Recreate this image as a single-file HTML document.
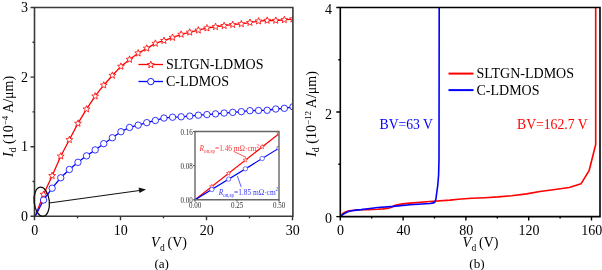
<!DOCTYPE html>
<html><head><meta charset="utf-8"><style>
html,body{margin:0;padding:0;background:#fff;width:602px;height:270px;overflow:hidden}
svg{display:block;filter:blur(0.3px)}
</style></head><body>
<svg width="602" height="270" viewBox="0 0 602 270">
<defs><clipPath id="ca"><rect x="34.5" y="7.5" width="258.0" height="208.8"/></clipPath></defs><g clip-path="url(#ca)">
<polyline points="34.95,216.75 43.55,194.48 52.15,175.69 60.75,156.20 69.35,139.77 77.95,123.42 86.55,109.15 95.15,96.20 103.75,85.21 112.35,75.46 120.95,66.41 129.55,59.45 138.15,53.19 146.75,48.32 155.35,43.45 163.95,40.66 172.55,37.53 181.15,34.40 189.75,32.31 198.35,30.22 206.95,28.13 215.55,26.74 224.15,25.70 232.75,24.65 241.35,23.96 249.95,22.57 258.55,21.17 267.15,20.48 275.75,20.48 284.35,19.78 292.95,19.09" fill="none" stroke="#f00" stroke-width="1.3"/>
<g fill="#fff" stroke="#f00" stroke-width="0.8"><polygon points="43.55,190.88 44.46,193.22 46.97,193.37 45.02,194.96 45.67,197.39 43.55,196.03 41.43,197.39 42.08,194.96 40.13,193.37 42.64,193.22"/><polygon points="52.15,172.09 53.06,174.43 55.57,174.57 53.62,176.16 54.27,178.60 52.15,177.24 50.03,178.60 50.68,176.16 48.73,174.57 51.24,174.43"/><polygon points="60.75,152.60 61.66,154.94 64.17,155.09 62.22,156.68 62.87,159.11 60.75,157.75 58.63,159.11 59.28,156.68 57.33,155.09 59.84,154.94"/><polygon points="69.35,136.17 70.26,138.52 72.77,138.66 70.82,140.25 71.47,142.68 69.35,141.32 67.23,142.68 67.88,140.25 65.93,138.66 68.44,138.52"/><polygon points="77.95,119.82 78.86,122.16 81.37,122.30 79.42,123.90 80.07,126.33 77.95,124.97 75.83,126.33 76.48,123.90 74.53,122.30 77.04,122.16"/><polygon points="86.55,105.55 87.46,107.89 89.97,108.04 88.02,109.63 88.67,112.06 86.55,110.70 84.43,112.06 85.08,109.63 83.13,108.04 85.64,107.89"/><polygon points="95.15,92.60 96.06,94.95 98.57,95.09 96.62,96.68 97.27,99.12 95.15,97.75 93.03,99.12 93.68,96.68 91.73,95.09 94.24,94.95"/><polygon points="103.75,81.61 104.66,83.95 107.17,84.09 105.22,85.68 105.87,88.12 103.75,86.76 101.63,88.12 102.28,85.68 100.33,84.09 102.84,83.95"/><polygon points="112.35,71.86 113.26,74.21 115.77,74.35 113.82,75.94 114.47,78.37 112.35,77.01 110.23,78.37 110.88,75.94 108.93,74.35 111.44,74.21"/><polygon points="120.95,62.81 121.86,65.16 124.37,65.30 122.42,66.89 123.07,69.33 120.95,67.96 118.83,69.33 119.48,66.89 117.53,65.30 120.04,65.16"/><polygon points="129.55,55.85 130.46,58.20 132.97,58.34 131.02,59.93 131.67,62.37 129.55,61.00 127.43,62.37 128.08,59.93 126.13,58.34 128.64,58.20"/><polygon points="138.15,49.59 139.06,51.94 141.57,52.08 139.62,53.67 140.27,56.10 138.15,54.74 136.03,56.10 136.68,53.67 134.73,52.08 137.24,51.94"/><polygon points="146.75,44.72 147.66,47.06 150.17,47.21 148.22,48.80 148.87,51.23 146.75,49.87 144.63,51.23 145.28,48.80 143.33,47.21 145.84,47.06"/><polygon points="155.35,39.85 156.26,42.19 158.77,42.33 156.82,43.92 157.47,46.36 155.35,45.00 153.23,46.36 153.88,43.92 151.93,42.33 154.44,42.19"/><polygon points="163.95,37.06 164.86,39.41 167.37,39.55 165.42,41.14 166.07,43.57 163.95,42.21 161.83,43.57 162.48,41.14 160.53,39.55 163.04,39.41"/><polygon points="172.55,33.93 173.46,36.28 175.97,36.42 174.02,38.01 174.67,40.44 172.55,39.08 170.43,40.44 171.08,38.01 169.13,36.42 171.64,36.28"/><polygon points="181.15,30.80 182.06,33.14 184.57,33.29 182.62,34.88 183.27,37.31 181.15,35.95 179.03,37.31 179.68,34.88 177.73,33.29 180.24,33.14"/><polygon points="189.75,28.71 190.66,31.06 193.17,31.20 191.22,32.79 191.87,35.22 189.75,33.86 187.63,35.22 188.28,32.79 186.33,31.20 188.84,31.06"/><polygon points="198.35,26.62 199.26,28.97 201.77,29.11 199.82,30.70 200.47,33.13 198.35,31.77 196.23,33.13 196.88,30.70 194.93,29.11 197.44,28.97"/><polygon points="206.95,24.53 207.86,26.88 210.37,27.02 208.42,28.61 209.07,31.05 206.95,29.68 204.83,31.05 205.48,28.61 203.53,27.02 206.04,26.88"/><polygon points="215.55,23.14 216.46,25.49 218.97,25.63 217.02,27.22 217.67,29.65 215.55,28.29 213.43,29.65 214.08,27.22 212.13,25.63 214.64,25.49"/><polygon points="224.15,22.10 225.06,24.44 227.57,24.59 225.62,26.18 226.27,28.61 224.15,27.25 222.03,28.61 222.68,26.18 220.73,24.59 223.24,24.44"/><polygon points="232.75,21.05 233.66,23.40 236.17,23.54 234.22,25.13 234.87,27.57 232.75,26.20 230.63,27.57 231.28,25.13 229.33,23.54 231.84,23.40"/><polygon points="241.35,20.36 242.26,22.70 244.77,22.85 242.82,24.44 243.47,26.87 241.35,25.51 239.23,26.87 239.88,24.44 237.93,22.85 240.44,22.70"/><polygon points="249.95,18.97 250.86,21.31 253.37,21.45 251.42,23.04 252.07,25.48 249.95,24.12 247.83,25.48 248.48,23.04 246.53,21.45 249.04,21.31"/><polygon points="258.55,17.57 259.46,19.92 261.97,20.06 260.02,21.65 260.67,24.09 258.55,22.72 256.43,24.09 257.08,21.65 255.13,20.06 257.64,19.92"/><polygon points="267.15,16.88 268.06,19.22 270.57,19.37 268.62,20.96 269.27,23.39 267.15,22.03 265.03,23.39 265.68,20.96 263.73,19.37 266.24,19.22"/><polygon points="275.75,16.88 276.66,19.22 279.17,19.37 277.22,20.96 277.87,23.39 275.75,22.03 273.63,23.39 274.28,20.96 272.33,19.37 274.84,19.22"/><polygon points="284.35,16.18 285.26,18.53 287.77,18.67 285.82,20.26 286.47,22.69 284.35,21.33 282.23,22.69 282.88,20.26 280.93,18.67 283.44,18.53"/><polygon points="292.95,15.49 293.86,17.83 296.37,17.97 294.42,19.56 295.07,22.00 292.95,20.64 290.83,22.00 291.48,19.56 289.53,17.97 292.04,17.83"/></g>
<polyline points="34.95,216.75 43.55,200.05 52.15,188.21 60.75,177.77 69.35,169.49 77.95,162.32 86.55,155.85 95.15,149.93 103.75,143.67 112.35,137.75 120.95,131.70 129.55,127.45 138.15,125.16 146.75,122.65 155.35,120.49 163.95,118.06 172.55,117.22 181.15,116.80 189.75,116.11 198.35,115.20 206.95,114.58 215.55,113.88 224.15,113.05 232.75,112.35 241.35,111.65 249.95,110.68 258.55,110.47 267.15,110.26 275.75,109.01 284.35,108.31 292.95,106.78" fill="none" stroke="#00f" stroke-width="1.3"/>
<g fill="#fff" stroke="#00f" stroke-width="0.8"><circle cx="43.55" cy="200.05" r="3.2"/><circle cx="52.15" cy="188.21" r="3.2"/><circle cx="60.75" cy="177.77" r="3.2"/><circle cx="69.35" cy="169.49" r="3.2"/><circle cx="77.95" cy="162.32" r="3.2"/><circle cx="86.55" cy="155.85" r="3.2"/><circle cx="95.15" cy="149.93" r="3.2"/><circle cx="103.75" cy="143.67" r="3.2"/><circle cx="112.35" cy="137.75" r="3.2"/><circle cx="120.95" cy="131.70" r="3.2"/><circle cx="129.55" cy="127.45" r="3.2"/><circle cx="138.15" cy="125.16" r="3.2"/><circle cx="146.75" cy="122.65" r="3.2"/><circle cx="155.35" cy="120.49" r="3.2"/><circle cx="163.95" cy="118.06" r="3.2"/><circle cx="172.55" cy="117.22" r="3.2"/><circle cx="181.15" cy="116.80" r="3.2"/><circle cx="189.75" cy="116.11" r="3.2"/><circle cx="198.35" cy="115.20" r="3.2"/><circle cx="206.95" cy="114.58" r="3.2"/><circle cx="215.55" cy="113.88" r="3.2"/><circle cx="224.15" cy="113.05" r="3.2"/><circle cx="232.75" cy="112.35" r="3.2"/><circle cx="241.35" cy="111.65" r="3.2"/><circle cx="249.95" cy="110.68" r="3.2"/><circle cx="258.55" cy="110.47" r="3.2"/><circle cx="267.15" cy="110.26" r="3.2"/><circle cx="275.75" cy="109.01" r="3.2"/><circle cx="284.35" cy="108.31" r="3.2"/><circle cx="292.95" cy="106.78" r="3.2"/></g>
</g>
<path d="M34.5,7.5 H292.9 V216.3 H34.5 Z" fill="none" stroke="#3a3a3a" stroke-width="1.6"/>
<path d="M34.50,216.3 v4 M77.50,216.3 v2 M120.50,216.3 v4 M163.50,216.3 v2 M206.50,216.3 v4 M249.50,216.3 v2 M292.50,216.3 v4 M34.5,216.30 h-4 M34.5,181.50 h-2 M34.5,146.70 h-4 M34.5,111.90 h-2 M34.5,77.10 h-4 M34.5,42.30 h-2 M34.5,7.50 h-4" stroke="#333" stroke-width="1.4" fill="none"/>
<text font-family="Liberation Serif"  font-size="14" x="34.80" y="234.5" text-anchor="middle">0</text>
<text font-family="Liberation Serif"  font-size="14" x="120.80" y="234.5" text-anchor="middle">10</text>
<text font-family="Liberation Serif"  font-size="14" x="206.80" y="234.5" text-anchor="middle">20</text>
<text font-family="Liberation Serif"  font-size="14" x="292.80" y="234.5" text-anchor="middle">30</text>
<text font-family="Liberation Serif"  font-size="14" x="27.9" y="220.70" text-anchor="end">0</text>
<text font-family="Liberation Serif"  font-size="14" x="27.9" y="151.10" text-anchor="end">1</text>
<text font-family="Liberation Serif"  font-size="14" x="27.9" y="81.50" text-anchor="end">2</text>
<text font-family="Liberation Serif"  font-size="14" x="27.9" y="11.90" text-anchor="end">3</text>
<text font-family="Liberation Serif"  font-size="14" x="151" y="246.9"><tspan font-style="italic">V</tspan><tspan font-size="9.5" dx="0.5" dy="4.3">d</tspan><tspan dy="-4.3" dx="-0.8"> (V)</tspan></text>
<text font-family="Liberation Serif"  font-size="13.2" x="161.7" y="267.8" text-anchor="middle">(a)</text>
<text font-family="Liberation Serif"  font-size="14" transform="translate(12.5,116.5) rotate(-90)" text-anchor="middle"><tspan font-style="italic">I</tspan><tspan font-size="10" dy="3">d</tspan><tspan dy="-3"> (10</tspan><tspan font-size="9" dy="-5">−4</tspan><tspan dy="5"> A/μm)</tspan></text>
<path d="M138.5,64.5 H163" stroke="#f00" stroke-width="1.3"/>
<g fill="#fff" stroke="#f00" stroke-width="0.9"><polygon points="150.80,61.20 151.71,63.55 154.22,63.69 152.27,65.28 152.92,67.71 150.80,66.35 148.68,67.71 149.33,65.28 147.38,63.69 149.89,63.55"/></g>
<path d="M138.5,81.5 H163" stroke="#00f" stroke-width="1.3"/>
<circle cx="150.8" cy="81.6" r="3.2" fill="#fff" stroke="#00f" stroke-width="0.9"/>
<text font-family="Liberation Serif"  font-size="14" x="166" y="69">SLTGN-LDMOS</text>
<text font-family="Liberation Serif"  font-size="14" x="166" y="86">C-LDMOS</text>
<ellipse cx="41.7" cy="201.7" rx="7.6" ry="14.7" fill="none" stroke="#111" stroke-width="1.3" transform="rotate(-6 41.7 201.5)"/>
<path d="M49.2,203 L139.5,190.5" stroke="#111" stroke-width="1.1"/>
<path d="M146,189.6 L138.6,187.6 L139.4,193 Z" fill="#111"/>
<rect x="195.0" y="131.5" width="84.0" height="68.30000000000001" fill="#fff"/>
<defs><clipPath id="ci"><rect x="195.0" y="131.5" width="84.0" height="68.30000000000001"/></clipPath></defs><g clip-path="url(#ci)">
<path d="M195.0,199.80 L279.00,133.63" stroke="#f00" stroke-width="1.2"/>
<g fill="#fff" stroke="#f33" stroke-width="0.7"><polygon points="211.80,184.17 212.39,185.76 214.08,185.83 212.75,186.88 213.21,188.51 211.80,187.57 210.39,188.51 210.85,186.88 209.52,185.83 211.21,185.76"/><polygon points="228.60,170.93 229.19,172.52 230.88,172.59 229.55,173.64 230.01,175.28 228.60,174.33 227.19,175.28 227.65,173.64 226.32,172.59 228.01,172.52"/><polygon points="245.40,157.70 245.99,159.29 247.68,159.36 246.35,160.41 246.81,162.04 245.40,161.10 243.99,162.04 244.45,160.41 243.12,159.36 244.81,159.29"/><polygon points="262.20,144.47 262.79,146.06 264.48,146.13 263.15,147.18 263.61,148.81 262.20,147.87 260.79,148.81 261.25,147.18 259.92,146.13 261.61,146.06"/><polygon points="279.00,131.23 279.59,132.83 281.28,132.89 279.95,133.94 280.41,135.58 279.00,134.63 277.59,135.58 278.05,133.94 276.72,132.89 278.41,132.83"/></g>
<path d="M195.0,199.80 L279.00,148.15" stroke="#00f" stroke-width="1.2"/>
<g fill="#fff" stroke="#33f" stroke-width="0.7"><circle cx="211.80" cy="189.47" r="2.2"/><circle cx="228.60" cy="179.14" r="2.2"/><circle cx="245.40" cy="168.81" r="2.2"/><circle cx="262.20" cy="158.48" r="2.2"/><circle cx="279.00" cy="148.15" r="2.2"/></g>
</g>
<path d="M195.0,131.5 H279.0 V199.8 H195.0 Z" fill="none" stroke="#666" stroke-width="1.4"/>
<path d="M195.00,199.8 v2 M237.00,199.8 v2 M279.00,199.8 v2 M195.0,199.80 h-2 M195.0,165.65 h-2 M195.0,131.50 h-2" stroke="#555" stroke-width="1"/>
<text font-family="Liberation Serif"  font-size="7.4" fill="#333" text-anchor="middle" transform="translate(195.10,207.8) scale(0.95,1)">0.00</text>
<text font-family="Liberation Serif"  font-size="7.4" fill="#333" text-anchor="middle" transform="translate(237.10,207.8) scale(0.95,1)">0.25</text>
<text font-family="Liberation Serif"  font-size="7.4" fill="#333" text-anchor="middle" transform="translate(279.10,207.8) scale(0.95,1)">0.50</text>
<text font-family="Liberation Serif"  font-size="7.4" fill="#333" text-anchor="end" transform="translate(192.8,203.20) scale(0.95,1)">0.00</text>
<text font-family="Liberation Serif"  font-size="7.4" fill="#333" text-anchor="end" transform="translate(192.8,169.05) scale(0.95,1)">0.08</text>
<text font-family="Liberation Serif"  font-size="7.4" fill="#333" text-anchor="end" transform="translate(192.8,134.90) scale(0.95,1)">0.16</text>
<text font-family="Liberation Serif"  font-size="8.1" fill="#f33" transform="translate(199.6,151) scale(0.91,1)"><tspan font-style="italic">R</tspan><tspan font-size="5.6" dy="2.2">on,sp</tspan><tspan dy="-2.2">=1.46 mΩ·cm</tspan><tspan font-size="5.6" dy="-3.2">2</tspan></text>
<path d="M233.5,151.3 L246,157.3" stroke="#f33" stroke-width="0.8"/>
<text font-family="Liberation Serif"  font-size="8.1" fill="#33f" transform="translate(218.7,194.6) scale(0.91,1)"><tspan font-style="italic">R</tspan><tspan font-size="5.6" dy="2.2">on,sp</tspan><tspan dy="-2.2">=1.85 mΩ·cm</tspan><tspan font-size="5.6" dy="-3.2">2</tspan></text>
<path d="M241.2,187 L237.3,175.8" stroke="#33f" stroke-width="0.8"/>
<polyline points="340.3,216.6 341.6,214.9 343.6,212.9 345.5,211.9 347.3,211.2 349.5,210.8 351.9,210.5 356,210.1 361,209.8 368,209.6 377.8,209.3 383,208.9 388.9,208.1 391.5,207.2 394,205.8 397,204.8 402.8,203.9 410,203.1 430,201.5 450,200.1 458.3,199.3 471.6,198.3 484.9,197.7 498.2,196.9 511.4,195.7 526.6,193.9 539.9,191.5 553.2,189.7 569.2,187.5 581.1,183.7 589.1,170.7 595.7,144.5 595.7,7" fill="none" stroke="#f00" stroke-width="1.6" stroke-linejoin="round"/>
<polyline points="340.3,216.6 342,215.2 343.6,214.0 345.5,212.9 347.3,212.1 349.5,211.3 351.9,210.7 356,210.1 361.1,209.6 368,208.7 377.8,207.5 393.5,206.4 410,204.7 430,203.5 433.5,202.9 434.8,202.3 435.9,198.9 436.9,191.5 437.8,185 438.6,175 439,160 439.2,7" fill="none" stroke="#00f" stroke-width="1.6" stroke-linejoin="round"/>
<path d="M340.3,7.5 H600.0 V216.6 H340.3 Z" fill="none" stroke="#000" stroke-width="1.6"/>
<path d="M340.30,216.6 v4 M371.70,216.6 v2 M403.10,216.6 v4 M434.50,216.6 v2 M465.90,216.6 v4 M497.30,216.6 v2 M528.70,216.6 v4 M560.10,216.6 v2 M591.50,216.6 v4 M340.3,216.60 h-4 M340.3,164.32 h-2 M340.3,112.05 h-4 M340.3,59.78 h-2 M340.3,7.50 h-4" stroke="#000" stroke-width="1.4"/>
<text font-family="Liberation Serif"  font-size="14" x="340.60" y="234.5" text-anchor="middle">0</text>
<text font-family="Liberation Serif"  font-size="14" x="403.40" y="234.5" text-anchor="middle">40</text>
<text font-family="Liberation Serif"  font-size="14" x="466.20" y="234.5" text-anchor="middle">80</text>
<text font-family="Liberation Serif"  font-size="14" x="529.00" y="234.5" text-anchor="middle">120</text>
<text font-family="Liberation Serif"  font-size="14" x="591.80" y="234.5" text-anchor="middle">160</text>
<text font-family="Liberation Serif"  font-size="14" x="331.9" y="223.10" text-anchor="end">0</text>
<text font-family="Liberation Serif"  font-size="14" x="331.9" y="118.55" text-anchor="end">2</text>
<text font-family="Liberation Serif"  font-size="14" x="331.9" y="14.00" text-anchor="end">4</text>
<text font-family="Liberation Serif"  font-size="14" x="462.5" y="246.9"><tspan font-style="italic">V</tspan><tspan font-size="9.5" dx="0.5" dy="4.3">d</tspan><tspan dy="-4.3" dx="-0.8"> (V)</tspan></text>
<text font-family="Liberation Serif"  font-size="13.2" x="477" y="267.8" text-anchor="middle">(b)</text>
<text font-family="Liberation Serif"  font-size="14" transform="translate(315.8,114) rotate(-90)" text-anchor="middle"><tspan font-style="italic">I</tspan><tspan font-size="10" dy="3">d</tspan><tspan dy="-3"> (10</tspan><tspan font-size="9" dy="-5">−12</tspan><tspan dy="5"> A/μm)</tspan></text>
<path d="M448.5,73.6 H473.5" stroke="#f00" stroke-width="2"/>
<path d="M448.5,90.1 H473.5" stroke="#00f" stroke-width="2"/>
<text font-family="Liberation Serif"  font-size="14" x="476.5" y="77.8">SLTGN-LDMOS</text>
<text font-family="Liberation Serif"  font-size="14" x="476.5" y="94.5">C-LDMOS</text>
<text font-family="Liberation Serif"  font-size="13.7" fill="#00f" x="379.5" y="129.3">BV=63 V</text>
<text font-family="Liberation Serif"  font-size="13.7" fill="#f00" x="517" y="129.2">BV=162.7 V</text>
</svg>
</body></html>
